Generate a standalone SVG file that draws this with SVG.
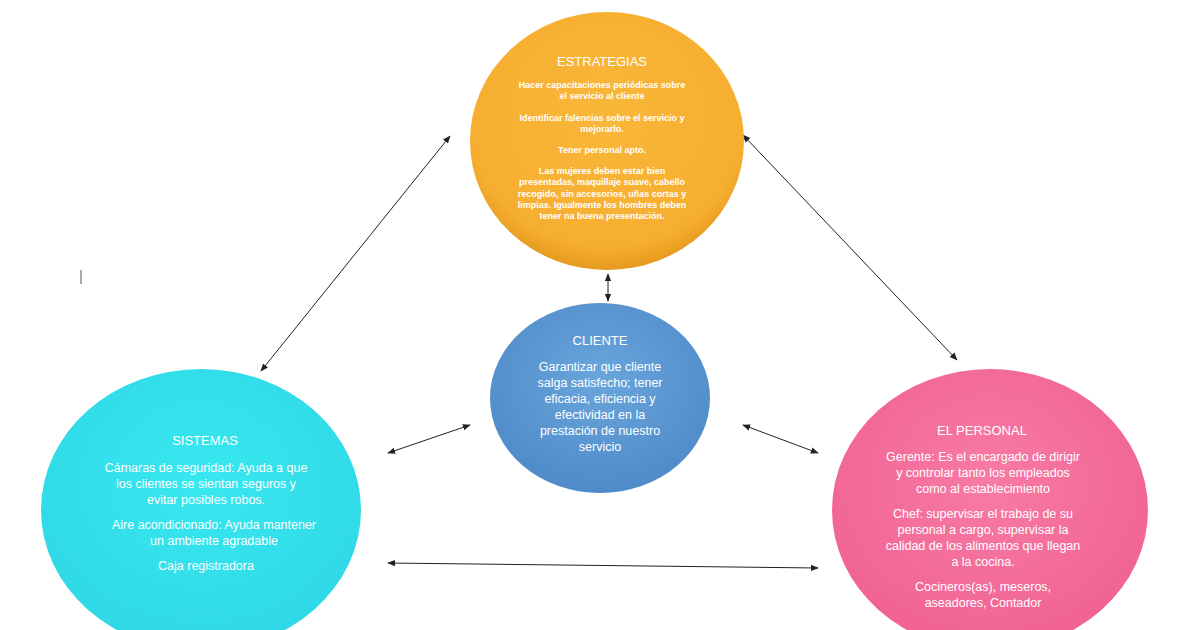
<svg xmlns="http://www.w3.org/2000/svg" width="1200" height="630" viewBox="0 0 1200 630">
<style>
text{font-family:"Liberation Sans",Arial,sans-serif;fill:#fff;text-anchor:middle}
.t{font-size:13px}.s{font-size:9px;font-weight:bold}.m{font-size:12.5px}
.c{stroke:#222;stroke-width:1;fill:none;marker-start:url(#a);marker-end:url(#a)}
</style>
<defs>
<marker id="a" viewBox="0 0 10 10" refX="9" refY="5" markerWidth="8" markerHeight="8" orient="auto-start-reverse"><path d="M0,1L10,5L0,9z" fill="#222"/></marker>
<radialGradient id="go" cx="0.5" cy="0.4" r="0.6"><stop offset="0" stop-color="#f9b73a"/><stop offset="0.85" stop-color="#f6ae30"/><stop offset="1" stop-color="#e49a1e"/></radialGradient>
<radialGradient id="gb" cx="0.5" cy="0.4" r="0.6"><stop offset="0" stop-color="#6aa5dc"/><stop offset="1" stop-color="#4f8bc9"/></radialGradient>
<radialGradient id="gc" cx="0.5" cy="0.4" r="0.6"><stop offset="0" stop-color="#38e8f0"/><stop offset="1" stop-color="#2fd8e6"/></radialGradient>
<radialGradient id="gp" cx="0.5" cy="0.4" r="0.6"><stop offset="0" stop-color="#f87ba5"/><stop offset="1" stop-color="#f06292"/></radialGradient>
</defs>
<rect width="1200" height="630" fill="#fff"/>
<line x1="81" y1="270" x2="81" y2="284" stroke="#555"/>
<g id="connectors">
<line class="c" x1="261" y1="371" x2="450" y2="136"/>
<line class="c" x1="743" y1="135" x2="957" y2="360"/>
<line class="c" x1="608" y1="274" x2="608" y2="301"/>
<line class="c" x1="388" y1="453" x2="470" y2="425"/>
<line class="c" x1="743" y1="425" x2="818" y2="453"/>
<line class="c" x1="388" y1="563" x2="818" y2="568"/>
</g>
<g id="estrategias">
<ellipse cx="607" cy="141" rx="137" ry="129" fill="url(#go)"/>
<text class="t" x="602" y="66">ESTRATEGIAS</text>
<text class="s"><tspan x="602" y="88">Hacer capacitaciones periódicas sobre</tspan><tspan x="602" y="99">el servicio al cliente</tspan><tspan x="602" y="121">Identificar falencias sobre el servicio y</tspan><tspan x="602" y="132">mejorarlo.</tspan><tspan x="602" y="153">Tener personal apto.</tspan><tspan x="602" y="174">Las mujeres deben estar bien</tspan><tspan x="602" y="185">presentadas, maquillaje suave, cabello</tspan><tspan x="602" y="197">recogido, sin accesorios, uñas cortas y</tspan><tspan x="602" y="208">limpias. Igualmente los hombres deben</tspan><tspan x="602" y="219">tener na buena presentación.</tspan></text>
</g>
<g id="cliente">
<ellipse cx="600" cy="398" rx="110" ry="95" fill="url(#gb)"/>
<text class="t" x="600" y="345">CLIENTE</text>
<text class="m"><tspan x="600" y="371">Garantizar que cliente</tspan><tspan x="600" y="387">salga satisfecho; tener</tspan><tspan x="600" y="403">eficacia, eficiencia y</tspan><tspan x="600" y="419">efectividad en la</tspan><tspan x="600" y="435">prestación de nuestro</tspan><tspan x="600" y="451">servicio</tspan></text>
</g>
<g id="sistemas">
<ellipse cx="201" cy="510" rx="160" ry="141" fill="url(#gc)"/>
<text class="t" x="205" y="445">SISTEMAS</text>
<text class="m"><tspan x="206" y="472">Cámaras de seguridad: Ayuda a que</tspan><tspan x="206" y="488">los clientes se sientan seguros y</tspan><tspan x="206" y="504">evitar posibles robos.</tspan><tspan x="214" y="529">Aire acondicionado: Ayuda mantener</tspan><tspan x="214" y="545">un ambiente agradable</tspan><tspan x="206" y="570">Caja registradora</tspan></text>
</g>
<g id="personal">
<ellipse cx="990" cy="510" rx="158" ry="141" fill="url(#gp)"/>
<text class="t" x="982" y="435">EL PERSONAL</text>
<text class="m"><tspan x="983" y="461">Gerente: Es el encargado de dirigir</tspan><tspan x="983" y="477">y controlar tanto los empleados</tspan><tspan x="983" y="493">como al establecimiento</tspan><tspan x="983" y="518">Chef: supervisar el trabajo de su</tspan><tspan x="983" y="534">personal a cargo, supervisar la</tspan><tspan x="983" y="550">calidad de los alimentos que llegan</tspan><tspan x="983" y="566">a la cocina.</tspan><tspan x="983" y="591">Cocineros(as), meseros,</tspan><tspan x="983" y="607">aseadores, Contador</tspan></text>
</g>
</svg>
